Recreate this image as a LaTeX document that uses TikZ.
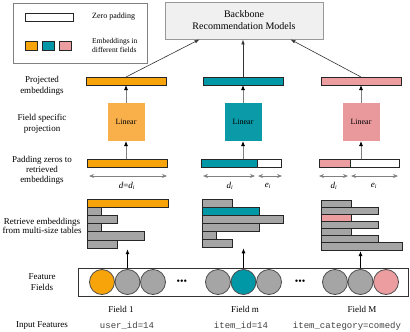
\documentclass[tikz,border=0pt]{standalone}
\usepackage{fontspec}
\setmainfont{Liberation Serif}
\setmonofont{Liberation Mono}
\usetikzlibrary{arrows.meta,calc}
\definecolor{cOr}{HTML}{F7A30A}
\definecolor{cOrL}{HTML}{F9B04A}
\definecolor{cTe}{HTML}{0098A6}
\definecolor{cTeL}{HTML}{0A9AA8}
\definecolor{cPk}{HTML}{EB9DA0}
\definecolor{cPkL}{HTML}{E9989C}
\definecolor{cGr}{HTML}{A5A5A5}
\begin{document}
\begin{tikzpicture}[x=1pt,y=-1pt,
 bar/.style={draw=black!85, line width=1pt, inner sep=0, outer sep=0, minimum width=80pt, minimum height=8pt},
 lin/.style={inner sep=0, outer sep=0, minimum width=37pt, minimum height=38pt, font=\fontsize{8}{9}\selectfont},
 lab/.style={align=center, font=\fontsize{9}{11}\selectfont},
 row/.style={draw=black!85, line width=0.9pt, inner sep=0, outer sep=0, anchor=north west},
 circ/.style={circle, draw=black!70, line width=0.8pt, fill=cGr, minimum size=25pt, inner sep=0},
 up/.style={draw=gray, line width=0.8pt, -{Latex[length=5pt,width=4pt,black]}},
 upb/.style={draw=black, line width=0.9pt, -{Latex[length=5pt,width=4pt]}},
 dbl/.style={draw=gray, line width=0.8pt, {Stealth[length=5pt,width=4pt]}-{Stealth[length=5pt,width=4pt]}},
 toback/.style={draw=black!80, line width=0.6pt, -{Latex[length=5pt,width=3.5pt]}},
 mono/.style={font=\fontsize{9}{10}\ttfamily, text=black!75},
 dots/.style={font=\fontsize{10}{10}\selectfont, inner sep=0},
]
\useasboundingbox (0,0) rectangle (410,332);

% legend
\node[draw=gray, line width=0.8pt, minimum width=134pt, minimum height=60pt, inner sep=0] (leg) at (80,33) {};
\node[bar, fill=white, minimum width=48pt] (lz) at (49,17) {};
\node[bar, fill=cOr, minimum width=12pt, minimum height=9pt] (lo) at (31,45.5) {};
\node[bar, fill=cTe, minimum width=12pt, minimum height=9pt] (lt) at (48.5,45.5) {};
\node[bar, fill=cPk, minimum width=12pt, minimum height=9pt] (lp) at (65.5,45.5) {};
\node[anchor=west, inner sep=0, font=\fontsize{8}{9}\selectfont] (tz) at (92,17) {Zero padding};
\node[anchor=west, inner sep=0, align=left, font=\fontsize{7.5}{9}\selectfont] (te) at (92,45.5) {Embeddings in\\different fields};

% backbone
\node[draw=gray!80, fill=gray!12, line width=0.8pt, minimum width=158pt, minimum height=37pt, align=center, font=\fontsize{10}{12}\selectfont] (bb) at (244,20.5) {Backbone\\Recommendation Models};

% projected
\node[bar, fill=cOr] (p1) at (126,81) {};
\node[bar, fill=cTe] (p2) at (243,81) {};
\node[bar, fill=cPk] (p3) at (361,81) {};

\draw[toback] (p1.north) -- ($(bb.south west)+(35,0)$);
\draw[toback] (p2.north) -- (p2.north |- bb.south);
\draw[toback] (p3.north) -- ($(bb.south east)+(-33,0)$);

% linear
\node[lin, fill=cOrL] (l1) at (126,122) {Linear};
\node[lin, fill=cTeL] (l2) at (243,122) {Linear};
\node[lin, fill=cPkL] (l3) at (361,122) {Linear};
\draw[up] (l1.north) -- (p1.south);
\draw[up] (l2.north) -- (p2.south);
\draw[up] (l3.north) -- (p3.south);

% padding
\node[bar, fill=cOr, minimum height=8.5pt] (pad1) at (127,163.5) {};
\node[bar, fill=cTe, minimum height=8.5pt, minimum width=56pt] (pad2a) at (229,163.5) {};
\node[bar, fill=white, minimum height=8.5pt, minimum width=24pt] (pad2b) at (269,163.5) {};
\node[bar, fill=cPk, minimum height=8.5pt, minimum width=31pt] (pad3a) at (334.5,163.5) {};
\node[bar, fill=white, minimum height=8.5pt, minimum width=49pt] (pad3b) at (374.5,163.5) {};
\draw[up] (l1.south |- pad1.north) -- (l1.south);
\draw[up] (l2.south |- pad2a.north) -- (l2.south);
\draw[up] (l3.south |- pad3b.north) -- (l3.south);

% double arrows
\coordinate (a1l) at (89,176); \coordinate (a1r) at (167,176);
\coordinate (a2l) at (203,176); \coordinate (a2r) at (255,176);
\coordinate (a3l) at (258,176); \coordinate (a3r) at (282,176);
\coordinate (a4l) at (319,176); \coordinate (a4r) at (348,176);
\coordinate (a5l) at (351,176); \coordinate (a5r) at (398,176);
\draw[dbl] (a1l) -- (a1r);
\draw[dbl] (a2l) -- (a2r);
\draw[dbl] (a3l) -- (a3r);
\draw[dbl] (a4l) -- (a4r);
\draw[dbl] (a5l) -- (a5r);
\node[lab] (dl1) at (127,186) {{\itshape d}={\itshape d}\textsubscript{\itshape i}};
\node[lab] (dl2) at (230,186) {{\itshape d}\textsubscript{\itshape i}};
\node[lab] (el2) at (268,186) {{\itshape e}\textsubscript{\itshape i}};
\node[lab] (dl3) at (334,186) {{\itshape d}\textsubscript{\itshape i}};
\node[lab] (el3) at (374,186) {{\itshape e}\textsubscript{\itshape i}};

% tables
\foreach \w/\c [count=\i] in {81/cOr,14/cGr,30/cGr,14/cGr,57/cGr,30/cGr}
  \node[row, fill=\c, minimum width=\w pt, minimum height=8.2pt] (t1r\i) at (87,{199+(\i-1)*8.2}) {};
\foreach \w/\c [count=\i] in {30/cGr,57/cTe,81/cGr,57/cGr,14/cGr,30/cGr}
  \node[row, fill=\c, minimum width=\w pt, minimum height=8pt] (t2r\i) at (202,{199.3+(\i-1)*8}) {};
\foreach \w/\c [count=\i] in {30/cGr,57/cGr,30/cPk,57/cGr,30/cGr,57/cGr,81/cGr}
  \node[row, fill=\c, minimum width=\w pt, minimum height=7.15pt] (t3r\i) at (321,{200+(\i-1)*7.15}) {};

% feature fields
\node[draw=black!80, line width=0.9pt, minimum width=330pt, minimum height=28pt, inner sep=0] (fbox) at (243,282) {};
\node[circ, fill=cOr] (c11) at (102,282) {};
\node[circ] (c12) at (127.5,282) {};
\node[circ] (c13) at (153,282) {};
\node[dots] (dots1) at (182,282) {•••};
\node[circ] (cm1) at (218,282) {};
\node[circ, fill=cTe] (cm2) at (243.5,282) {};
\node[circ] (cm3) at (269,282) {};
\node[dots] (dots2) at (300,282) {•••};
\node[circ] (cM1) at (335,282) {};
\node[circ] (cM2) at (360.5,282) {};
\node[circ, fill=cPk] (cM3) at (386,282) {};

\draw[upb] (c12.north |- fbox.north) -- ([yshift=-1pt]c12.north |- t1r6.south);
\draw[upb] (cm2.north |- fbox.north) -- ([yshift=-1pt]cm2.north |- t2r6.south);
\draw[upb] (cM2.north |- fbox.north) -- ([yshift=-1pt]cM2.north |- t3r7.south);

% field labels
\node[lab] (f1) at (121,309) {Field 1};
\node[lab] (fm) at (245,309) {Field m};
\node[lab] (fM) at (362,309) {Field M};
\node[mono] (i1) at (127,326) {user\_id=14};
\node[mono] (i2) at (241,326) {item\_id=14};
\node[mono] (i3) at (347,326) {item\_category=comedy};

% left labels
\node[lab] (L1) at (42,86) {Projected\\embeddings};
\node[lab] (L2) at (42,123.5) {Field specific\\projection};
\node[lab, font=\fontsize{9}{10}\selectfont] (L3) at (42,170) {Padding zeros to\\retrieved\\embeddings};
\node[lab, font=\fontsize{9}{8.5}\selectfont] (L4) at (42,226) {Retrieve embeddings\\from multi-size tables};
\node[lab] (L5) at (42,282.5) {Feature\\Fields};
\node[lab] (L6) at (42,326) {Input Features};
\end{tikzpicture}
\end{document}
